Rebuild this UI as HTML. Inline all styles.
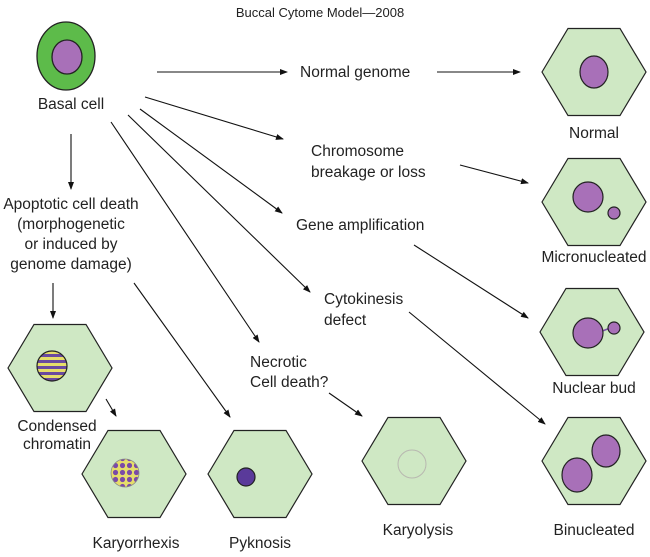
<!DOCTYPE html>
<html><head><style>
body{margin:0;background:#fff}
svg text{font-family:"Liberation Sans",Arial,sans-serif;font-size:15.5px;fill:#222}
</style></head><body>
<svg width="650" height="552" viewBox="0 0 650 552" xmlns="http://www.w3.org/2000/svg">
<defs>
<marker id="a" markerWidth="8" markerHeight="8" refX="7" refY="4" orient="auto" markerUnits="userSpaceOnUse"><path d="M0,1 L8,4 L0,7 z" fill="#111"/></marker>
<pattern id="stripe" width="6" height="6" patternUnits="userSpaceOnUse"><rect width="6" height="6" fill="#e6de6a"/><rect width="6" height="3" fill="#6a4aa0"/></pattern>
<pattern id="dots" width="7" height="7" patternUnits="userSpaceOnUse"><rect width="7" height="7" fill="#e6de6a"/><circle cx="3.5" cy="3.5" r="2.6" fill="#7a4aa8"/></pattern>
<g id="hex"><polygon points="-52,0 -26,-43.5 26,-43.5 52,0 26,43.5 -26,43.5" fill="#cfe8c4" stroke="#222" stroke-width="1.2"/></g>
</defs>
<text x="320" y="17" text-anchor="middle" style="font-size:13px">Buccal Cytome Model—2008</text>
<ellipse cx="66" cy="56" rx="29" ry="34" fill="#5dbb4a" stroke="#222" stroke-width="1.3"/>
<ellipse cx="67" cy="57" rx="15" ry="17" fill="#a870b8" stroke="#222" stroke-width="1.3"/>
<text x="71" y="109" text-anchor="middle">Basal cell</text>
<g stroke="#111" stroke-width="1.1" marker-end="url(#a)">
<line x1="157" y1="72" x2="287" y2="72"/>
<line x1="437" y1="72" x2="520" y2="72"/>
<line x1="145" y1="97" x2="283" y2="139"/>
<line x1="460" y1="165" x2="528" y2="183"/>
<line x1="140" y1="109" x2="282" y2="213"/>
<line x1="414" y1="245" x2="528" y2="318"/>
<line x1="128" y1="115" x2="310" y2="292"/>
<line x1="409" y1="312" x2="545" y2="424"/>
<line x1="111" y1="122" x2="259" y2="342"/>
<line x1="329" y1="393" x2="362" y2="416"/>
<line x1="71" y1="134" x2="71" y2="189"/>
<line x1="53" y1="283" x2="53" y2="318"/>
<line x1="134" y1="283" x2="230" y2="417"/>
<line x1="106" y1="399" x2="116" y2="416"/>
</g>
<text x="300" y="77">Normal genome</text>
<text x="311" y="156">Chromosome</text>
<text x="311" y="177">breakage or loss</text>
<text x="296" y="230">Gene amplification</text>
<text x="324" y="304">Cytokinesis</text>
<text x="324" y="325">defect</text>
<text x="250" y="367">Necrotic</text>
<text x="250" y="387">Cell death?</text>
<text x="71" y="209" text-anchor="middle">Apoptotic cell death</text>
<text x="71" y="229" text-anchor="middle">(morphogenetic</text>
<text x="71" y="249" text-anchor="middle">or induced by</text>
<text x="71" y="269" text-anchor="middle">genome damage)</text>

<use href="#hex" x="594" y="72"/>
<ellipse cx="594" cy="72" rx="14" ry="16" fill="#a870b8" stroke="#222" stroke-width="1.2"/>
<text x="594" y="138" text-anchor="middle">Normal</text>

<use href="#hex" x="594" y="202"/>
<circle cx="588" cy="197" r="15" fill="#a870b8" stroke="#222" stroke-width="1.2"/>
<circle cx="614" cy="213" r="6" fill="#a870b8" stroke="#222" stroke-width="1.2"/>
<text x="594" y="262" text-anchor="middle">Micronucleated</text>

<use href="#hex" x="592" y="332"/>
<line x1="600" y1="332" x2="610" y2="328" stroke="#7a50a8" stroke-width="1.5"/>
<circle cx="588" cy="333" r="15" fill="#a870b8" stroke="#222" stroke-width="1.2"/>
<circle cx="614" cy="328" r="6" fill="#a870b8" stroke="#222" stroke-width="1.2"/>
<text x="594" y="393" text-anchor="middle">Nuclear bud</text>

<use href="#hex" x="594" y="461"/>
<ellipse cx="577" cy="475" rx="15" ry="17" fill="#a870b8" stroke="#222" stroke-width="1.2"/>
<ellipse cx="606" cy="451" rx="14" ry="16" fill="#a870b8" stroke="#222" stroke-width="1.2"/>
<text x="594" y="535" text-anchor="middle">Binucleated</text>

<use href="#hex" x="414" y="461"/>
<circle cx="412" cy="464" r="14" fill="none" stroke="#b8b8b0" stroke-width="1"/>
<text x="418" y="535" text-anchor="middle">Karyolysis</text>

<use href="#hex" x="260" y="474"/>
<circle cx="246" cy="477" r="9" fill="#5a3a9a" stroke="#222" stroke-width="1.2"/>
<text x="260" y="548" text-anchor="middle">Pyknosis</text>

<use href="#hex" x="134" y="474"/>
<circle cx="125" cy="473" r="14" fill="url(#dots)" stroke="#888" stroke-width="0.8"/>
<text x="136" y="548" text-anchor="middle">Karyorrhexis</text>

<use href="#hex" x="60" y="368"/>
<circle cx="52" cy="366" r="15" fill="url(#stripe)" stroke="#222" stroke-width="1.2"/>
<text x="57" y="431" text-anchor="middle">Condensed</text>
<text x="57" y="449" text-anchor="middle">chromatin</text>
</svg>
</body></html>
